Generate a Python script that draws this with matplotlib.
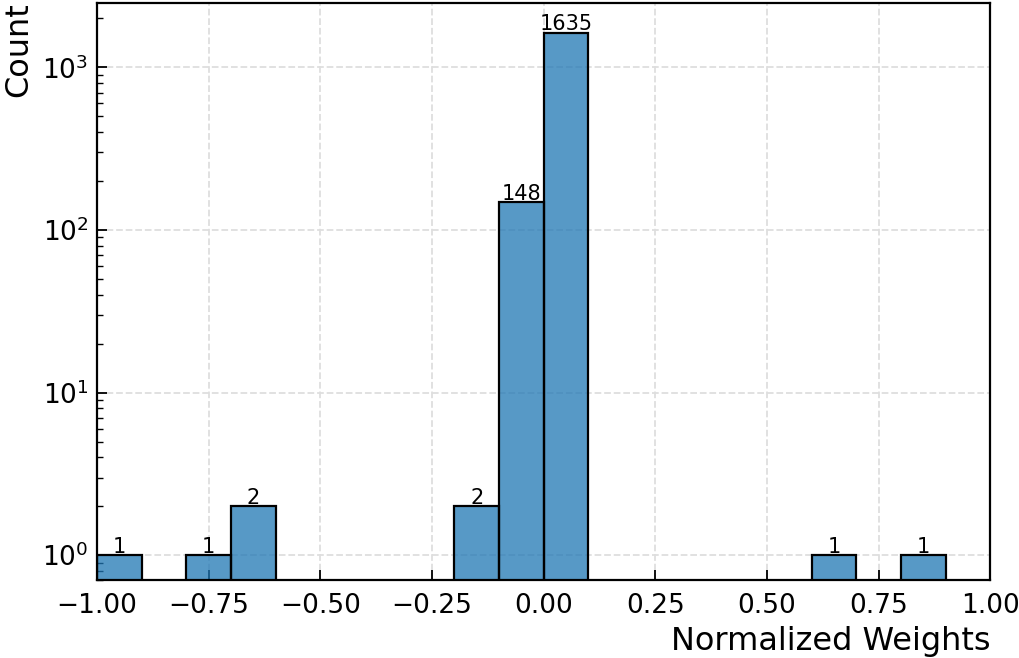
import matplotlib
matplotlib.use('Agg')
import matplotlib.pyplot as plt
import numpy as np

# histogram bins (width 0.1 from -1 to 1) and counts
bin_edges = np.round(np.arange(-1.0, 1.0001, 0.1), 2)
counts = [1, 0, 1, 2, 0, 0, 0, 0, 2, 148, 1635, 0, 0, 0, 0, 0, 1, 0, 1, 0]
x_ticks = [-1.0, -0.75, -0.5, -0.25, 0.0, 0.25, 0.5, 0.75, 1.0]

fig, ax = plt.subplots(figsize=(10.2, 6.58), dpi=100)
fig.subplots_adjust(left=0.095, right=0.971, top=0.996, bottom=0.118)

ax.grid(True, linestyle='--', color='#dedede', linewidth=1.3)
ax.set_axisbelow(True)

lefts = bin_edges[:-1]
widths = np.diff(bin_edges)
ax.bar(lefts, counts, width=widths, align='edge', color='#1f77b4',
       alpha=0.75, edgecolor='none')
ax.bar(lefts, counts, width=widths, align='edge', facecolor='none',
       edgecolor='black', linewidth=1.6)

for x, w, c in zip(lefts, widths, counts):
    if c > 0:
        ax.annotate(str(c), (x + w / 2, c), xytext=(0, -1),
                    textcoords='offset points', ha='center', va='bottom',
                    fontsize=15)

ax.set_yscale('log')
ax.set_ylim(0.7, 2500)
ax.set_xlim(-1.0, 1.0)
ax.set_xticks(x_ticks)
ax.set_xticklabels([f'{t:.2f}'.replace('-', '\u2212') for t in x_ticks])

ax.tick_params(axis='both', which='both', direction='in', labelsize=19)
ax.tick_params(axis='both', which='major', length=7, width=1.3, pad=6)
ax.tick_params(axis='x', which='major', pad=9)
ax.tick_params(axis='y', which='minor', length=4, width=1.0)
for s in ax.spines.values():
    s.set_linewidth(1.6)

ax.set_xlabel('Normalized Weights', fontsize=23, loc='right', labelpad=5)
ax.set_ylabel('Count', fontsize=23, loc='top', labelpad=6)

fig.savefig('out.png')
